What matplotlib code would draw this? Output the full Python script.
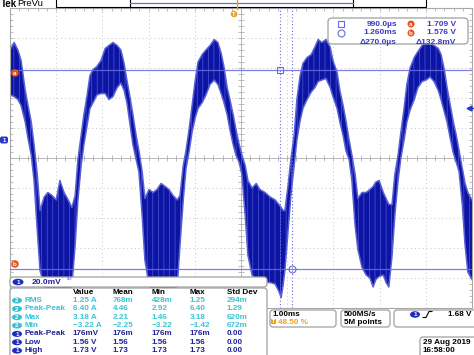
import matplotlib
matplotlib.use('Agg')
import matplotlib.pyplot as plt
from matplotlib.patches import FancyBboxPatch, Ellipse, Rectangle, Circle

plt.rcParams['font.family'] = ['Liberation Sans', 'DejaVu Sans']
plt.rcParams['hatch.linewidth'] = 0.5

# 1) 채널1 파형 (시간 ms, 노이즈 포락선 위/아래 V)
t_ms = [-4.85, -4.76, -4.68, -4.61, -4.52, -4.46, -4.39, -4.33, -4.26, -4.20,
        -4.11, -4.03, -3.94, -3.85, -3.77, -3.68, -3.59, -3.51, -3.44, -3.38,
        -3.31, -3.25, -3.18, -3.12, -3.05, -2.97, -2.88, -2.79, -2.71, -2.62,
        -2.53, -2.45, -2.38, -2.32, -2.25, -2.19, -2.12, -2.06, -1.99, -1.93,
        -1.84, -1.75, -1.67, -1.58, -1.49, -1.41, -1.32, -1.23, -1.17, -1.10,
        -1.04, -0.97, -0.91, -0.84, -0.78, -0.69, -0.61, -0.52, -0.43, -0.35,
        -0.28, -0.22, -0.15, -0.09, -0.02, 0.04, 0.11, 0.17, 0.24, 0.30,
        0.39, 0.48, 0.56, 0.67, 0.78, 0.89, 0.97, 1.02, 1.06, 1.10,
        1.17, 1.23, 1.30, 1.36, 1.43, 1.49, 1.58, 1.67, 1.75, 1.82,
        1.90, 1.99, 2.08, 2.14, 2.23, 2.29, 2.36, 2.42, 2.49, 2.55,
        2.62, 2.68, 2.77, 2.86, 2.94, 3.01, 3.07, 3.14, 3.23, 3.29,
        3.35, 3.42, 3.48, 3.55, 3.61, 3.68, 3.74, 3.81, 3.90, 3.98,
        4.07, 4.16, 4.24, 4.33, 4.42, 4.48, 4.55, 4.61, 4.68, 4.74,
        4.81, 4.87, 4.94, 5.00, 5.06, 5.15]
v_hi = [1.722, 1.727, 1.722, 1.715, 1.695, 1.685, 1.674, 1.659, 1.639, 1.615,
        1.624, 1.627, 1.625, 1.622, 1.635, 1.627, 1.622, 1.617, 1.625, 1.649,
        1.665, 1.679, 1.692, 1.705, 1.709, 1.711, 1.715, 1.723, 1.725, 1.727,
        1.725, 1.722, 1.713, 1.702, 1.690, 1.679, 1.665, 1.655, 1.641, 1.623,
        1.629, 1.627, 1.629, 1.633, 1.631, 1.629, 1.625, 1.622, 1.625, 1.645,
        1.655, 1.670, 1.685, 1.702, 1.714, 1.719, 1.722, 1.725, 1.729, 1.727,
        1.720, 1.711, 1.697, 1.689, 1.679, 1.669, 1.659, 1.652, 1.645, 1.635,
        1.630, 1.633, 1.629, 1.627, 1.624, 1.622, 1.619, 1.617, 1.615, 1.615,
        1.632, 1.649, 1.665, 1.689, 1.705, 1.713, 1.717, 1.719, 1.724, 1.729,
        1.727, 1.729, 1.724, 1.715, 1.707, 1.695, 1.685, 1.675, 1.662, 1.652,
        1.639, 1.623, 1.627, 1.627, 1.629, 1.631, 1.634, 1.635, 1.627, 1.623,
        1.619, 1.619, 1.639, 1.652, 1.667, 1.683, 1.699, 1.710, 1.717, 1.721,
        1.725, 1.729, 1.727, 1.725, 1.723, 1.719, 1.709, 1.697, 1.685, 1.675,
        1.665, 1.655, 1.643, 1.633, 1.627, 1.622]
v_lo = [1.692, 1.691, 1.689, 1.685, 1.674, 1.663, 1.652, 1.635, 1.602, 1.575,
        1.565, 1.559, 1.555, 1.555, 1.557, 1.555, 1.559, 1.565, 1.592, 1.622,
        1.645, 1.659, 1.672, 1.683, 1.687, 1.692, 1.693, 1.693, 1.689, 1.691,
        1.697, 1.700, 1.695, 1.687, 1.672, 1.659, 1.649, 1.641, 1.612, 1.582,
        1.565, 1.557, 1.555, 1.555, 1.557, 1.555, 1.557, 1.565, 1.592, 1.622,
        1.643, 1.655, 1.667, 1.677, 1.683, 1.687, 1.692, 1.699, 1.702, 1.699,
        1.693, 1.687, 1.679, 1.669, 1.659, 1.652, 1.647, 1.639, 1.612, 1.585,
        1.572, 1.569, 1.565, 1.567, 1.567, 1.566, 1.561, 1.557, 1.565, 1.575,
        1.602, 1.625, 1.645, 1.662, 1.675, 1.683, 1.689, 1.694, 1.697, 1.701,
        1.702, 1.703, 1.697, 1.691, 1.683, 1.674, 1.665, 1.655, 1.649, 1.635,
        1.605, 1.589, 1.577, 1.572, 1.570, 1.564, 1.569, 1.571, 1.572, 1.567,
        1.564, 1.585, 1.612, 1.635, 1.650, 1.662, 1.674, 1.682, 1.689, 1.697,
        1.701, 1.702, 1.704, 1.701, 1.695, 1.689, 1.681, 1.674, 1.663, 1.654,
        1.647, 1.641, 1.619, 1.592, 1.574, 1.569]

# 2) 커서 / 트리거
cursor_t = [0.99, 1.26]
cursor_v = [1.709, 1.576]
cursor_names = ['a', 'b']
cursor_rows = [['990.0µs', '1.709 V'], ['1.260ms', '1.576 V'], ['Δ270.0µs', 'Δ132.8mV']]

# 3) 측정 테이블
meas_header = ['Value', 'Mean', 'Min', 'Max', 'Std Dev']
meas_ch = ['2', '2', '2', '2', '1', '1', '1']
meas_name = ['RMS', 'Peak-Peak', 'Max', 'Min', 'Peak-Peak', 'Low', 'High']
meas_vals = [
    ['1.25 A', '768m', '428m', '1.25', '294m'],
    ['6.40 A', '4.46', '2.92', '6.40', '1.29'],
    ['3.18 A', '2.21', '1.46', '3.18', '620m'],
    ['−3.22 A', '−2.25', '−3.22', '−1.42', '672m'],
    ['176mV', '176m', '176m', '176m', '0.00'],
    ['1.56 V', '1.56', '1.56', '1.56', '0.00'],
    ['1.73 V', '1.73', '1.73', '1.73', '0.00'],
]

blue = '#3a3ac8'
navy = '#22229a'
cyan = '#3cc4d4'
orange = '#e8501e'
gray = '#a8a8a8'

fig = plt.figure(figsize=(4.74, 3.55), dpi=100)
fig.patch.set_facecolor('white')

# 그래티큘 영역
ax = fig.add_axes([10/474, 47/355, 462/474, 300/355])
ax.set_xlim(-4.85, 5.15)
ax.set_ylim(1.55, 1.75)
for s in ax.spines.values():
    s.set_color(gray)
    s.set_linewidth(0.8)
ax.set_xticks([])
ax.set_yticks([])

xdiv = [-4.85 + i for i in range(11)]
ydiv = [1.55 + 0.02 * j for j in range(11)]
for x in xdiv[1:-1]:
    if abs(x - 0.15) > 1e-6:
        ax.axvline(x, color='#c8c8c8', lw=0.7, ls=(0, (1, 3)), zorder=0.5)
for y in ydiv[1:-1]:
    if abs(y - 1.65) > 1e-6:
        ax.axhline(y, color='#c8c8c8', lw=0.7, ls=(0, (1, 3)), zorder=0.5)
ax.axvline(0.15, color='#b8b8b8', lw=0.7, zorder=0.5)
ax.axhline(1.65, color='#b8b8b8', lw=0.7, zorder=0.5)

xminor = [-4.85 + 0.2 * i for i in range(51)]
yminor = [1.55 + 0.004 * j for j in range(51)]
tick_kw = dict(ls='none', ms=4, mew=0.6, color='#b0b0b0', zorder=0.5)
ax.plot([0.15] * len(yminor), yminor, marker='_', **tick_kw)
ax.plot(xminor, [1.65] * len(xminor), marker='|', **tick_kw)
ax.plot([-4.85] * len(yminor), yminor, marker='_', **tick_kw)
ax.plot([5.15] * len(yminor), yminor, marker='_', **tick_kw)
ax.plot(xminor, [1.75] * len(xminor), marker='|', **tick_kw)

# 파형 (세로 해칭으로 노이즈 느낌)
ax.fill_between(t_ms, v_lo, v_hi, facecolor='#0c14a4', edgecolor='#4e56d2', hatch='|||', lw=0, zorder=2)
ax.plot(t_ms, v_hi, color='#5a62d6', lw=1.1, zorder=2.1)
ax.plot(t_ms, v_lo, color='#5a62d6', lw=1.1, zorder=2.1)

# 커서 선
for tc in cursor_t:
    ax.axvline(tc, color='#6a6ae0', lw=0.8, ls=(0, (1, 2)), zorder=3)
for vc in cursor_v:
    ax.axhline(vc, color='#6a6ae0', lw=0.9, alpha=0.85, zorder=3)
ax.plot(cursor_t[0], cursor_v[0], marker='s', ms=5, mfc='none', mec='#6a6ae0', mew=0.8, zorder=3)
ax.plot(cursor_t[1], cursor_v[1], marker='o', ms=5, mfc='none', mec='#6a6ae0', mew=0.8, zorder=3)

# 오버레이 (픽셀 좌표)
ov = fig.add_axes([0, 0, 1, 1])
ov.set_xlim(0, 474)
ov.set_ylim(355, 0)
ov.axis('off')
ov.patch.set_alpha(0)


def badge(x, y, txt, fc, w=9, h=6, fs=4.5):
    ov.add_patch(Ellipse((x, y), w, h, fc=fc, ec='none'))
    ov.text(x, y + 0.3, txt, color='white', fontsize=fs, weight='bold', ha='center', va='center')


def box(x, y, w, h, r=3):
    ov.add_patch(FancyBboxPatch((x, y), w, h, boxstyle=f'round,pad=0,rounding_size={r}',
                                fc='white', ec='#a0a0a0', lw=0.9))


# 상단 바
ov.text(0.5, 4, 'Tek', fontsize=7, weight='bold', va='center')
ov.text(17, 4, 'PreVu', fontsize=6.8, va='center')
ov.add_patch(Rectangle((56, -2), 370, 9, fill=False, ec='black', lw=0.8))
ov.plot([130, 130], [-2, 7], color='black', lw=0.8)
ov.plot([353, 353], [-2, 7], color='black', lw=0.8)
ov.plot([130, 353], [3, 3], color='#6a6ae0', lw=0.9)
ov.plot([237, 237], [0, 9], color='#f0a020', lw=1)
ov.add_patch(Circle((234, 14), 3.3, fc='#f0a020', ec='none'))
ov.text(234, 14.3, 'T', color='white', fontsize=4.2, weight='bold', ha='center', va='center')

# 채널 / 트리거 레벨 마커
ov.add_patch(FancyBboxPatch((0, 136.5), 8, 7, boxstyle='round,pad=0,rounding_size=2', fc='#2838c8', ec='none'))
ov.text(4, 140.3, '1', color='white', fontsize=4.2, weight='bold', ha='center', va='center')
ov.plot(469.5, 108, marker='<', ms=3.5, color='#2838c8')
ov.plot([470, 473], [108, 108], color='#2838c8', lw=1)

# 커서 a, b 라벨
badge(15, 73, cursor_names[0], orange, w=7.5, h=7.5)
badge(15, 264, cursor_names[1], orange, w=7.5, h=7.5)

# 커서 표시 박스
box(328, 18, 140, 26, r=4)
ov.plot(341, 24, marker='s', ms=5, mfc='none', mec='#6a6ae0', mew=0.8)
ov.plot(341, 33, marker='o', ms=5, mfc='none', mec='#6a6ae0', mew=0.8)
row_y = [24, 33, 42]
for i, (left, right) in enumerate(cursor_rows):
    ov.text(397, row_y[i], left, color=blue, fontsize=6, weight='bold', ha='right', va='center')
    ov.text(456, row_y[i], right, color=blue, fontsize=6, weight='bold', ha='right', va='center')
badge(411, 24, 'a', orange, w=7, h=7)
badge(411, 33, 'b', orange, w=7, h=7)

# 측정 테이블
box(10, 277, 257, 10)
badge(18, 282, '1', '#1c2cc0', w=11, h=6.5)
ov.text(32, 282, '20.0mV', color=navy, fontsize=6, weight='bold', va='center')
ov.text(67, 281, 'ᴮᵂ', color='#6a8ad8', fontsize=4, va='center')
box(10, 288, 257, 72)
col_x = [73, 113, 152, 190, 227]
for cx, h in zip(col_x, meas_header):
    ov.text(cx, 292.5, h, fontsize=5.9, weight='bold', va='center')
for i in range(len(meas_name)):
    y = 300.5 + 8.35 * i
    c = cyan if meas_ch[i] == '2' else navy
    bc = '#38c0d0' if meas_ch[i] == '2' else '#1c2cc0'
    badge(17, y, meas_ch[i], bc, w=10, h=6)
    ov.text(25, y, meas_name[i], color=c, fontsize=5.9, weight='bold', va='center')
    for cx, v in zip(col_x, meas_vals[i]):
        ov.text(cx, y, v, color=c, fontsize=5.9, weight='bold', va='center')

# 하단 정보 박스
box(270, 310, 66, 17)
ov.text(273, 314.5, '1.00ms', fontsize=5.9, weight='bold', va='center')
ov.add_patch(Rectangle((271.5, 319), 4.5, 5, fc='#f0a020', ec='none'))
ov.text(273.8, 321.6, 'T', color='white', fontsize=3.5, weight='bold', ha='center', va='center')
ov.text(278, 322, '48.50 %', color='#f0a020', fontsize=5.9, weight='bold', va='center')

box(341, 310, 49, 17)
ov.text(344, 314.5, '500MS/s', fontsize=5.9, weight='bold', va='center')
ov.text(344, 322.5, '5M points', fontsize=5.9, weight='bold', va='center')

box(394, 310, 84, 17)
badge(415, 314.5, '1', '#1c2cc0', w=10, h=6.5)
ov.plot([423, 426, 429, 432], [317.5, 317.5, 311.5, 311.5], color='black', lw=0.8)
ov.text(471, 314.5, '1.68 V', fontsize=5.9, weight='bold', ha='right', va='center')

box(420, 337, 58, 22)
ov.text(423, 342, '29 Aug 2019', fontsize=5.9, weight='bold', va='center')
ov.text(423, 350, '16:58:00', fontsize=5.9, weight='bold', va='center')

plt.savefig('out.png', dpi=100, facecolor='white')
